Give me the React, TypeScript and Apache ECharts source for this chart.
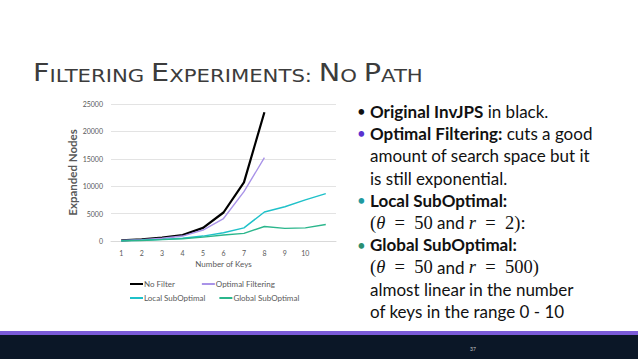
import React, { useEffect, useRef } from "react";
import * as echarts from "echarts";

const categories = ["1", "2", "3", "4", "5", "6", "7", "8", "9", "10", ""];
const noFilter = [100, 300, 600, 1100, 2400, 5200, 10700, 23500, null, null, null];
const optimalFiltering = [80, 250, 500, 900, 2000, 4100, 9000, 15200, null, null, null];
const localSubOptimal = [50, 150, 300, 500, 900, 1500, 2400, 5300, 6250, 7500, 8650];
const globalSubOptimal = [30, 100, 250, 400, 700, 1100, 1400, 2650, 2300, 2400, 3000];
const yTicks = [0, 5000, 10000, 15000, 20000, 25000];

const titleWords = [
  ["F", "ILTERING"],
  ["E", "XPERIMENTS:"],
  ["N", "O"],
  ["P", "ATH"],
];

export default function App() {
  const ref = useRef<HTMLDivElement>(null);
  useEffect(() => {
    if (!ref.current) return;
    const chart = echarts.init(ref.current, null, { renderer: "svg" });
    const sans = "Lato";
    const serif = "Liberation Serif";
    const fs = 17;
    const titleFont = "DejaVu Sans";
    const bigFs = 25;
    const smallFs = 18.5;
    const titleText = titleWords.map(([a, b]) => `{a|${a}}{b|${b}}`).join("{b| }");
    let titleScale = 0.8;
    try {
      const ctx = document.createElement("canvas").getContext("2d");
      if (ctx) {
        let w = 0;
        titleWords.forEach(([a, b], i) => {
          ctx.font = `${bigFs}px "${titleFont}"`;
          w += ctx.measureText(a).width;
          ctx.font = `${smallFs}px "${titleFont}"`;
          w += ctx.measureText(b + (i < titleWords.length - 1 ? " " : "")).width;
        });
        if (w > 0) titleScale = 390 / w;
      }
    } catch (e) {}
    const bx = 357;
    const tx = 370;
    const ys = [111, 133.3, 155.7, 178, 200.3, 222.6, 244.9, 267.2, 289.5, 311.8];
    const body = { fontFamily: sans, fontSize: fs, color: "#111" };
    const mfs = 18.5;
    const eq = "\u2002=\u2002";
    const mathRich = {
      t: { fontFamily: serif, fontStyle: "italic", fontSize: mfs, color: "#111" },
      s: { fontFamily: serif, fontSize: mfs, color: "#111" },
      n: { fontFamily: sans, fontSize: fs, color: "#111" },
    };
    const bullet = (y: number, color: string) => ({
      type: "text", x: bx, y, style: { text: "•", fontFamily: sans, fontSize: 15, fill: color, verticalAlign: "middle" },
    });
    const line = (y: number, text: string, rich?: any) => ({
      type: "text", x: tx, y,
      style: { text, fontFamily: sans, fontSize: fs, fill: "#111", verticalAlign: "middle", rich },
    });
    const boldRich = (color: string) => ({
      k: { fontFamily: sans, fontSize: fs, fontWeight: "bold", color },
      n: body,
    });

    chart.setOption({
      animation: false,
      backgroundColor: "#ffffff",
      grid: { left: 111, right: 302, top: 104, bottom: 118, containLabel: false },
      legend: [
        {
          data: ["No Filter", "Optimal Filtering"],
          left: 125, top: 275, itemWidth: 13, itemHeight: 2, itemGap: 27, icon: "rect",
          textStyle: { fontFamily: sans, fontSize: 8, color: "#595959", padding: [0, 0, 0, -4] },
        },
        {
          data: ["Local SubOptimal", "Global SubOptimal"],
          left: 125, top: 289, itemWidth: 13, itemHeight: 2, itemGap: 14, icon: "rect",
          textStyle: { fontFamily: sans, fontSize: 8, color: "#595959", padding: [0, 0, 0, -4] },
        },
      ],
      xAxis: {
        type: "category",
        data: categories,
        boundaryGap: true,
        name: "Number of Keys",
        nameLocation: "middle",
        nameGap: 19,
        nameTextStyle: { fontFamily: sans, fontSize: 8, color: "#595959" },
        axisLine: { show: true, lineStyle: { color: "#d9d9d9" } },
        axisTick: { show: false },
        axisLabel: { fontFamily: sans, fontSize: 7, color: "#595959", margin: 8, interval: 0 },
      },
      yAxis: {
        type: "value",
        min: yTicks[0],
        max: yTicks[yTicks.length - 1],
        interval: 5000,
        name: "Expanded Nodes",
        nameLocation: "middle",
        nameGap: 30,
        nameTextStyle: { fontFamily: sans, fontSize: 11.5, fontWeight: "bold", color: "#595959" },
        axisLine: { show: false },
        axisTick: { show: false },
        axisLabel: { fontFamily: sans, fontSize: 7, color: "#595959", margin: 8, formatter: (v: number) => String(v) },
        splitLine: { lineStyle: { color: "#e3e3e3", width: 1 } },
      },
      series: [
        { name: "No Filter", type: "line", data: noFilter, symbol: "none", color: "#000000", lineStyle: { width: 2.2, color: "#000000" } },
        { name: "Optimal Filtering", type: "line", data: optimalFiltering, symbol: "none", color: "#a993e8", lineStyle: { width: 1.4, color: "#a993e8" } },
        { name: "Local SubOptimal", type: "line", data: localSubOptimal, symbol: "none", color: "#1fc1c9", lineStyle: { width: 1.4, color: "#1fc1c9" } },
        { name: "Global SubOptimal", type: "line", data: globalSubOptimal, symbol: "none", color: "#2bb68c", lineStyle: { width: 1.4, color: "#2bb68c" } },
      ],
      graphic: [
        {
          type: "text", x: 33, y: 85, scaleX: titleScale,
          style: {
            text: titleText,
            fill: "#3c3c3c",
            verticalAlign: "bottom",
            rich: {
              a: { fontFamily: titleFont, fontSize: bigFs, color: "#3c3c3c", verticalAlign: "bottom", lineHeight: 28 },
              b: { fontFamily: titleFont, fontSize: smallFs, color: "#3c3c3c", verticalAlign: "bottom", lineHeight: 28 },
            },
          },
        },
        bullet(ys[0], "#111"),
        line(ys[0], "{k|Original InvJPS}{n| in black.}", boldRich("#111")),
        bullet(ys[1], "#5a32d0"),
        line(ys[1], "{k|Optimal Filtering:}{n| cuts a good}", boldRich("#5a32d0")),
        line(ys[2], "amount of search space but it"),
        line(ys[3], "is still exponential."),
        bullet(ys[4], "#1f9aa0"),
        line(ys[4], "{k|Local SubOptimal:}", boldRich("#1f9aa0")),
        line(ys[5], `{s|(}{t|θ}{s|${eq}50}{n| and }{t|r}{s|${eq}2):}`, mathRich),
        bullet(ys[6], "#2a8f70"),
        line(ys[6], "{k|Global SubOptimal:}", boldRich("#2a8f70")),
        line(ys[7], `{s|(}{t|θ}{s|${eq}50}{n| and }{t|r}{s|${eq}500)}`, mathRich),
        line(ys[8], "almost linear in the number"),
        line(ys[9], "of keys in the range 0 - 10"),
        { type: "rect", shape: { x: 0, y: 331, width: 638, height: 4 }, style: { fill: "#7b5bd8" } },
        { type: "rect", shape: { x: 0, y: 335, width: 638, height: 24 }, style: { fill: "#0b1727" } },
        { type: "text", x: 473, y: 349, style: { text: "37", fontFamily: sans, fontSize: 5, fill: "#c8c8c8", align: "center", verticalAlign: "middle" } },
      ],
    });
    return () => chart.dispose();
  }, []);
  return <div ref={ref} style={{ position: "fixed", left: 0, top: 0, width: 638, height: 359 }} />;
}
